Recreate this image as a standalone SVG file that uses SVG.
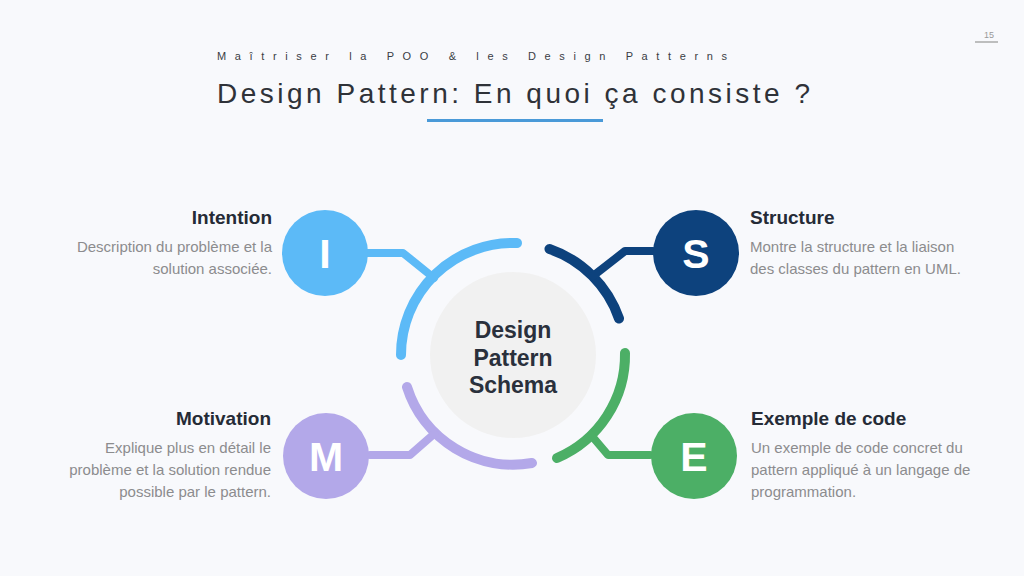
<svg xmlns="http://www.w3.org/2000/svg" width="1024" height="576" viewBox="0 0 1024 576">
<style>
text{font-family:"Liberation Sans",Arial,sans-serif}
.h{font-size:19px;font-weight:bold;fill:#252b36}
.d{font-size:15px;fill:#8c8c8e}
.l{font-size:41px;font-weight:bold;fill:#fff;text-anchor:middle}
.c{font-size:23px;font-weight:bold;fill:#2a303c;text-anchor:middle}
.arc{fill:none;stroke-width:10;stroke-linecap:round}
.con{fill:none;stroke-width:8;stroke-linejoin:round;stroke-linecap:round}
.r{text-anchor:end}
</style>
<rect width="1024" height="576" fill="#f8f9fc"/>
<g id="header">
<text x="989" y="38" font-size="9" fill="#9a9a9a" text-anchor="middle">15</text>
<line x1="975" y1="42" x2="998" y2="42" stroke="#aaaaaa" stroke-width="1.5"/>
<text x="217" y="60" font-size="11" fill="#3a3d44" textLength="510" lengthAdjust="spacing">Maîtriser la POO &amp; les Design Patterns</text>
<text x="217" y="103" font-size="28" fill="#2f3238" textLength="593" lengthAdjust="spacing">Design Pattern: En quoi ça consiste ?</text>
<rect x="427" y="119" width="176" height="3" fill="#4a9ad8"/>
</g>
<g id="connectors">
<path class="arc" stroke="#5cbaf7" d="M401,355 A112,112 0 0 1 517,243"/>
<path class="arc" stroke="#0d427d" d="M549.5,249 A112,112 0 0 1 619,318.5"/>
<path class="arc" stroke="#4caf66" d="M625,353 A112,112 0 0 1 557,458"/>
<path class="arc" stroke="#b3a8e9" d="M532,463 A111,111 0 0 1 407,387"/>
<path class="con" stroke="#5cbaf7" d="M367,253 L403,253 L434,278"/>
<path class="con" stroke="#0d427d" d="M653,251 L625,251 L593,276"/>
<path class="con" stroke="#b3a8e9" d="M370,455 L410,455 L434,434"/>
<path class="con" stroke="#4caf66" d="M650,455 L608,455 L591,435"/>
</g>
<g id="center">
<circle cx="513" cy="355" r="83" fill="#f1f1f1"/>
<text class="c" x="513" y="338">Design</text>
<text class="c" x="513" y="366">Pattern</text>
<text class="c" x="513" y="393">Schema</text>
</g>
<g id="node-I">
<circle cx="325" cy="253" r="43" fill="#5cbaf7"/>
<text class="l" x="325" y="268">I</text>
<text class="h r" x="272" y="224">Intention</text>
<text class="d r" x="272" y="252">Description du problème et la</text>
<text class="d r" x="272" y="274">solution associée.</text>
</g>
<g id="node-S">
<circle cx="696" cy="253" r="43" fill="#0d427d"/>
<text class="l" x="696" y="268">S</text>
<text class="h" x="750" y="224">Structure</text>
<text class="d" x="750" y="252">Montre la structure et la liaison</text>
<text class="d" x="750" y="274">des classes du pattern en UML.</text>
</g>
<g id="node-M">
<circle cx="326" cy="456" r="43" fill="#b3a8e9"/>
<text class="l" x="326" y="471">M</text>
<text class="h r" x="271" y="425">Motivation</text>
<text class="d r" x="271" y="453">Explique plus en détail le</text>
<text class="d r" x="271" y="475">problème et la solution rendue</text>
<text class="d r" x="271" y="497">possible par le pattern.</text>
</g>
<g id="node-E">
<circle cx="694" cy="456" r="43" fill="#4caf66"/>
<text class="l" x="694" y="471">E</text>
<text class="h" x="751" y="425">Exemple de code</text>
<text class="d" x="751" y="453">Un exemple de code concret du</text>
<text class="d" x="751" y="475">pattern appliqué à un langage de</text>
<text class="d" x="751" y="497">programmation.</text>
</g>
</svg>
